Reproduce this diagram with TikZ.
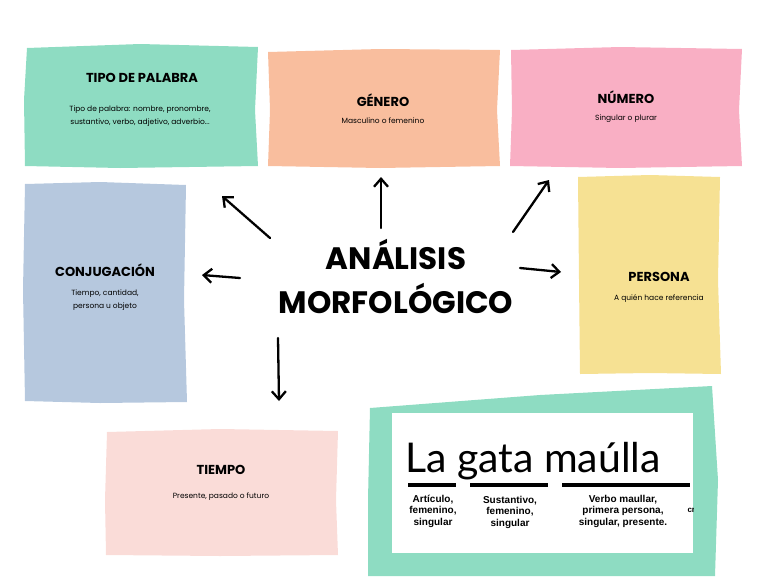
\documentclass[tikz,border=0pt]{standalone}
\usepackage{fontspec}
\setmainfont{Poppins}
\newfontfamily\latof{Lato}
\newfontfamily\lsans{Liberation Sans}
\usetikzlibrary{arrows.meta}
\definecolor{cgreen}{HTML}{8EDCC2}
\definecolor{csalmon}{HTML}{F9BE9E}
\definecolor{cpink}{HTML}{F9AFC4}
\definecolor{cblue}{HTML}{B6C8DE}
\definecolor{cyellow}{HTML}{F6E193}
\definecolor{clpink}{HTML}{FADCD8}
\tikzset{
 ttl/.style={font=\bfseries\fontsize{13}{15}\selectfont,align=center},
 bdy/.style={font=\fontsize{7.5}{13}\selectfont,align=center},
 arr/.style={line width=2.3pt,line cap=round,-{Straight Barb[length=8pt,width=14pt,line width=2.3pt]}},
 lab/.style={font=\lsans\bfseries\fontsize{10}{11.5}\selectfont,align=center},
 ul/.style={line width=4pt}
}
\begin{document}
\begin{tikzpicture}[x=1pt,y=-1pt]
\useasboundingbox (0,0) rectangle (768,576);
% boxes
\fill[cgreen] (27,48) -- (140,44) -- (258,47) -- (255,110) -- (258,166) -- (120,168) -- (25,166) -- (24,100) -- cycle;
\fill[csalmon] (268,52) -- (380,49) -- (500,50) -- (497,110) -- (500,166) -- (380,168) -- (268,166) -- (270,110) -- cycle;
\fill[cpink] (511,50) -- (620,47) -- (742,49) -- (739,110) -- (742,166) -- (620,168) -- (510,166) -- (512,110) -- cycle;
\fill[cblue] (25,184) -- (100,182) -- (186,185) -- (184,300) -- (187,402) -- (100,403) -- (25,401) -- (23,290) -- cycle;
\fill[cyellow] (578,177) -- (650,175) -- (720,177) -- (718,280) -- (721,374) -- (650,373) -- (580,374) -- (579,280) -- cycle;
\fill[clpink] (107,432) -- (220,429) -- (338,431) -- (336,500) -- (338,555) -- (220,556) -- (106,555) -- (105,500) -- cycle;
\fill[cgreen] (370,408) -- (540,395) -- (712,386) -- (718,480) -- (715,576) -- (368,576) -- (368,500) -- cycle;
\fill[white] (392,413) rectangle (693,553);
% texts
\node[ttl] (tipo) at (142,78) {TIPO DE PALABRA};
\node[bdy] (tipob) at (140,116) {Tipo de palabra: nombre, pronombre,\\sustantivo, verbo, adjetivo, adverbio...};
\node[ttl] (gen) at (383,100) {GÉNERO};
\node[bdy] (genb) at (383,121) {Masculino o femenino};
\node[ttl] (num) at (626,97) {NÚMERO};
\node[bdy] (numb) at (626,119) {Singular o plurar};
\node[ttl] (conj) at (105,270) {CONJUGACIÓN};
\node[bdy] (conjb) at (105,300) {Tiempo, cantidad,\\persona u objeto};
\node[ttl] (pers) at (659,277) {PERSONA};
\node[bdy] (persb) at (659,299) {A quién hace referencia};
\node[ttl] (tiem) at (221,470) {TIEMPO};
\node[bdy] (tiemb) at (221,497) {Presente, pasado o futuro};
\node[font=\bfseries\fontsize{31}{44}\selectfont,align=center] (c) at (396,276) {ANÁLISIS\\MORFOLÓGICO};
% arrows
\coordinate (a1s) at (270,238); \coordinate (a1e) at (222,196);
\coordinate (a2s) at (381,228); \coordinate (a2e) at (381,177);
\coordinate (a3s) at (513,232); \coordinate (a3e) at (549,180);
\coordinate (a4s) at (240,278); \coordinate (a4e) at (202,275);
\coordinate (a5s) at (520,268); \coordinate (a5e) at (561,272);
\coordinate (a6s) at (278,338); \coordinate (a6e) at (279,401);
\draw[arr] (a1s) -- (a1e);
\draw[arr] (a2s) -- (a2e);
\draw[arr] (a3s) -- (a3e);
\draw[arr] (a4s) -- (a4e);
\draw[arr] (a5s) -- (a5e);
\draw[arr] (a6s) -- (a6e);
% example
\node[font=\latof\fontsize{41}{44}\selectfont,anchor=base west,inner sep=0] (ex) at (405,472) {La gata maúlla};
\coordinate (u1a) at (408,485); \coordinate (u1b) at (456,485);
\coordinate (u2a) at (470,485); \coordinate (u2b) at (548,485);
\coordinate (u3a) at (562,485); \coordinate (u3b) at (690,485);
\draw[ul] (u1a) -- (u1b); \draw[ul] (u2a) -- (u2b); \draw[ul] (u3a) -- (u3b);
\node[lab] (l1) at (433,511) {Artículo,\\femenino,\\singular};
\node[lab] (l2) at (510,512) {Sustantivo,\\femenino,\\singular};
\node[lab] (l3) at (623,511) {Verbo maullar,\\ primera persona,\\singular, presente.};
\begin{scope}
\clip (680,490) rectangle (693,520);
\node[lab,anchor=west,font=\lsans\bfseries\fontsize{8}{9}\selectfont] (l4) at (684,510) {cr};
\end{scope}
\end{tikzpicture}
\end{document}
